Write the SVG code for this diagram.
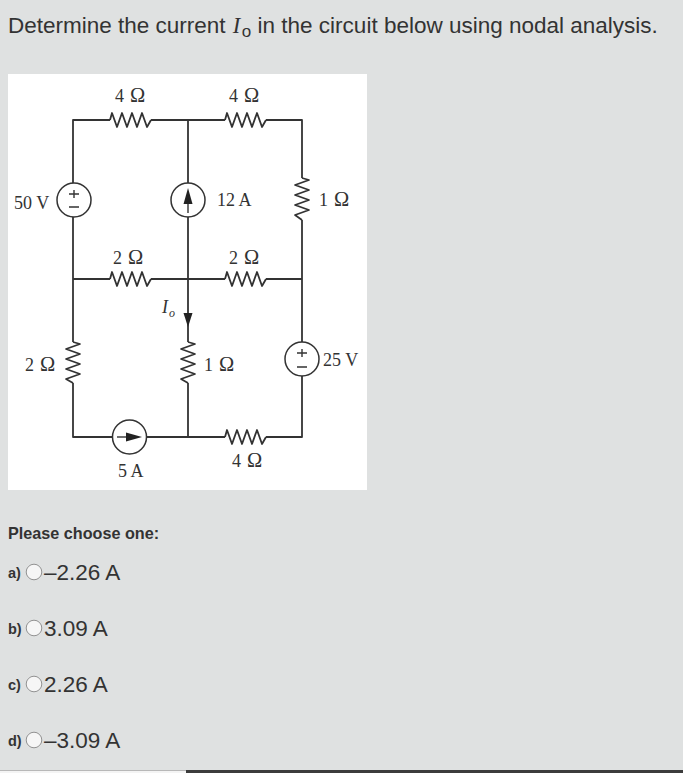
<svg xmlns="http://www.w3.org/2000/svg" width="683" height="773" viewBox="0 0 683 773">
<style>
.w{fill:none;stroke:#333;stroke-width:1.8;stroke-linejoin:round}
.e{fill:#fff;stroke:#333;stroke-width:1.5}
.a{fill:#222;stroke:none}
.s{stroke:#333;stroke-width:1.4;fill:none}
.c{font-family:"Liberation Serif",serif;font-size:18px;fill:#333}
.m{word-spacing:1.5px}
.m tspan{font-size:20.5px}
.h{font-family:"Liberation Sans",Arial,sans-serif;font-size:22.5px;fill:#333}
.q{font-family:"Liberation Sans",Arial,sans-serif;font-size:16.200px;font-weight:bold;fill:#333}
.l{font-family:"Liberation Sans",Arial,sans-serif;font-size:14.500px;font-weight:bold;fill:#333}
.o{font-family:"Liberation Sans",Arial,sans-serif;font-size:22.500px;fill:#333}
.r{fill:#f6f6f6;stroke:#929292;stroke-width:1}
</style>
<rect width="683" height="773" fill="#dfe1e1"/>
<rect x="0" y="770" width="186" height="1" fill="#b8b8b8"/>
<rect x="0" y="771" width="186" height="2" fill="#f4f4f4"/>
<rect x="186" y="770" width="497" height="3" fill="#3c3c3c"/>
<g id="title"><text class="h" x="8" y="33">Determine the current <tspan font-family="Liberation Serif" font-style="italic" dx="1">I</tspan><tspan font-size="17" dx="1.500" dy="4">o</tspan><tspan dy="-4"> in the circuit below using nodal analysis.</tspan></text></g>
<rect id="panel" x="8" y="74" width="359" height="416" fill="#fff"/>
<g id="connectors">
<path class="w" d="M73 184V120H110M151 120H225M266 120H302V178M302 220V279H266M225 279H151M110 279H73V216M73 279V342M73 383V437H113M147 437H225M266 437H302V376M302 342V279M188 120V184M188 216V342M188 383V437"/>
</g>
<g id="r-top-left"><path class="w" d="M110 120l2 -7l5 14l5 -14l5 14l5 -14l5 14l5 -14l5 14l4 -7"/><text class="c m" x="115" y="102">4 <tspan>Ω</tspan></text></g>
<g id="r-top-right"><path class="w" d="M225 120l2 -7l5 14l5 -14l5 14l5 -14l5 14l5 -14l5 14l4 -7"/><text class="c m" x="229" y="102">4 <tspan>Ω</tspan></text></g>
<g id="r-mid-left"><path class="w" d="M110 279l2 -7l5 14l5 -14l5 14l5 -14l5 14l5 -14l5 14l4 -7"/><text class="c m" x="113" y="264">2 <tspan>Ω</tspan></text></g>
<g id="r-mid-right"><path class="w" d="M225 279l2 -7l5 14l5 -14l5 14l5 -14l5 14l5 -14l5 14l4 -7"/><text class="c m" x="229" y="264">2 <tspan>Ω</tspan></text></g>
<g id="r-bottom"><path class="w" d="M225 437l2 -7l5 14l5 -14l5 14l5 -14l5 14l5 -14l5 14l4 -7"/><text class="c m" x="232" y="467">4 <tspan>Ω</tspan></text></g>
<g id="r-right"><path class="w" d="M302 178l7 2l-14 5l14 5l-14 5l14 5l-14 5l14 5l-14 5l7 5"/><text class="c m" x="319" y="206">1 <tspan>Ω</tspan></text></g>
<g id="r-left-lower"><path class="w" d="M73 342l7 2l-14 5l14 5l-14 5l14 5l-14 5l14 5l-14 5l7 4"/><text class="c m" x="25" y="371">2 <tspan>Ω</tspan></text></g>
<g id="r-mid-lower"><path class="w" d="M188 342l7 2l-14 5l14 5l-14 5l14 5l-14 5l14 5l-14 5l7 4"/><text class="c m" x="204" y="371">1 <tspan>Ω</tspan></text></g>
<g id="v-50"><circle class="e" cx="74" cy="200" r="17"/><path class="s" d="M69 194h10M74 190v8M69 207h10"/><text class="c" x="14" y="209">50 V</text></g>
<g id="i-12"><circle class="e" cx="188" cy="200" r="17"/><path class="s" d="M188 195V213"/><path class="a" d="M188 188l4.500 16h-9z"/><text class="c" x="217" y="206">12 A</text></g>
<g id="v-25"><circle class="e" cx="302" cy="359" r="17"/><path class="s" d="M297 353h10M302 349v8M297 367h10"/><text class="c" x="323" y="366">25 V</text></g>
<g id="i-5"><circle class="e" cx="129.500" cy="437" r="17"/><path class="s" d="M117 437H130"/><path class="a" d="M142 437l-16 -4.500v9z"/><text class="c" x="118" y="477">5 A</text></g>
<g id="i-o"><path class="a" d="M188 327l-4.500 -14h9z"/><text x="162" y="313" font-family="Liberation Serif" font-style="italic" font-size="18" fill="#333">I<tspan font-size="12" dx="1" dy="4">o</tspan></text></g>
<g id="question"><text class="q" x="8" y="539">Please choose one:</text></g>
<g id="a"><text class="l" x="8" y="578">a)</text><circle class="r" cx="34" cy="572" r="7.800"/><text class="o" x="44" y="580">–2.26 A</text></g>
<g id="b"><text class="l" x="8" y="634">b)</text><circle class="r" cx="34" cy="628" r="7.800"/><text class="o" x="44" y="636">3.09 A</text></g>
<g id="c"><text class="l" x="8" y="690">c)</text><circle class="r" cx="34" cy="684" r="7.800"/><text class="o" x="44" y="692">2.26 A</text></g>
<g id="d"><text class="l" x="8" y="746">d)</text><circle class="r" cx="34" cy="740" r="7.800"/><text class="o" x="44" y="748">–3.09 A</text></g>
</svg>
